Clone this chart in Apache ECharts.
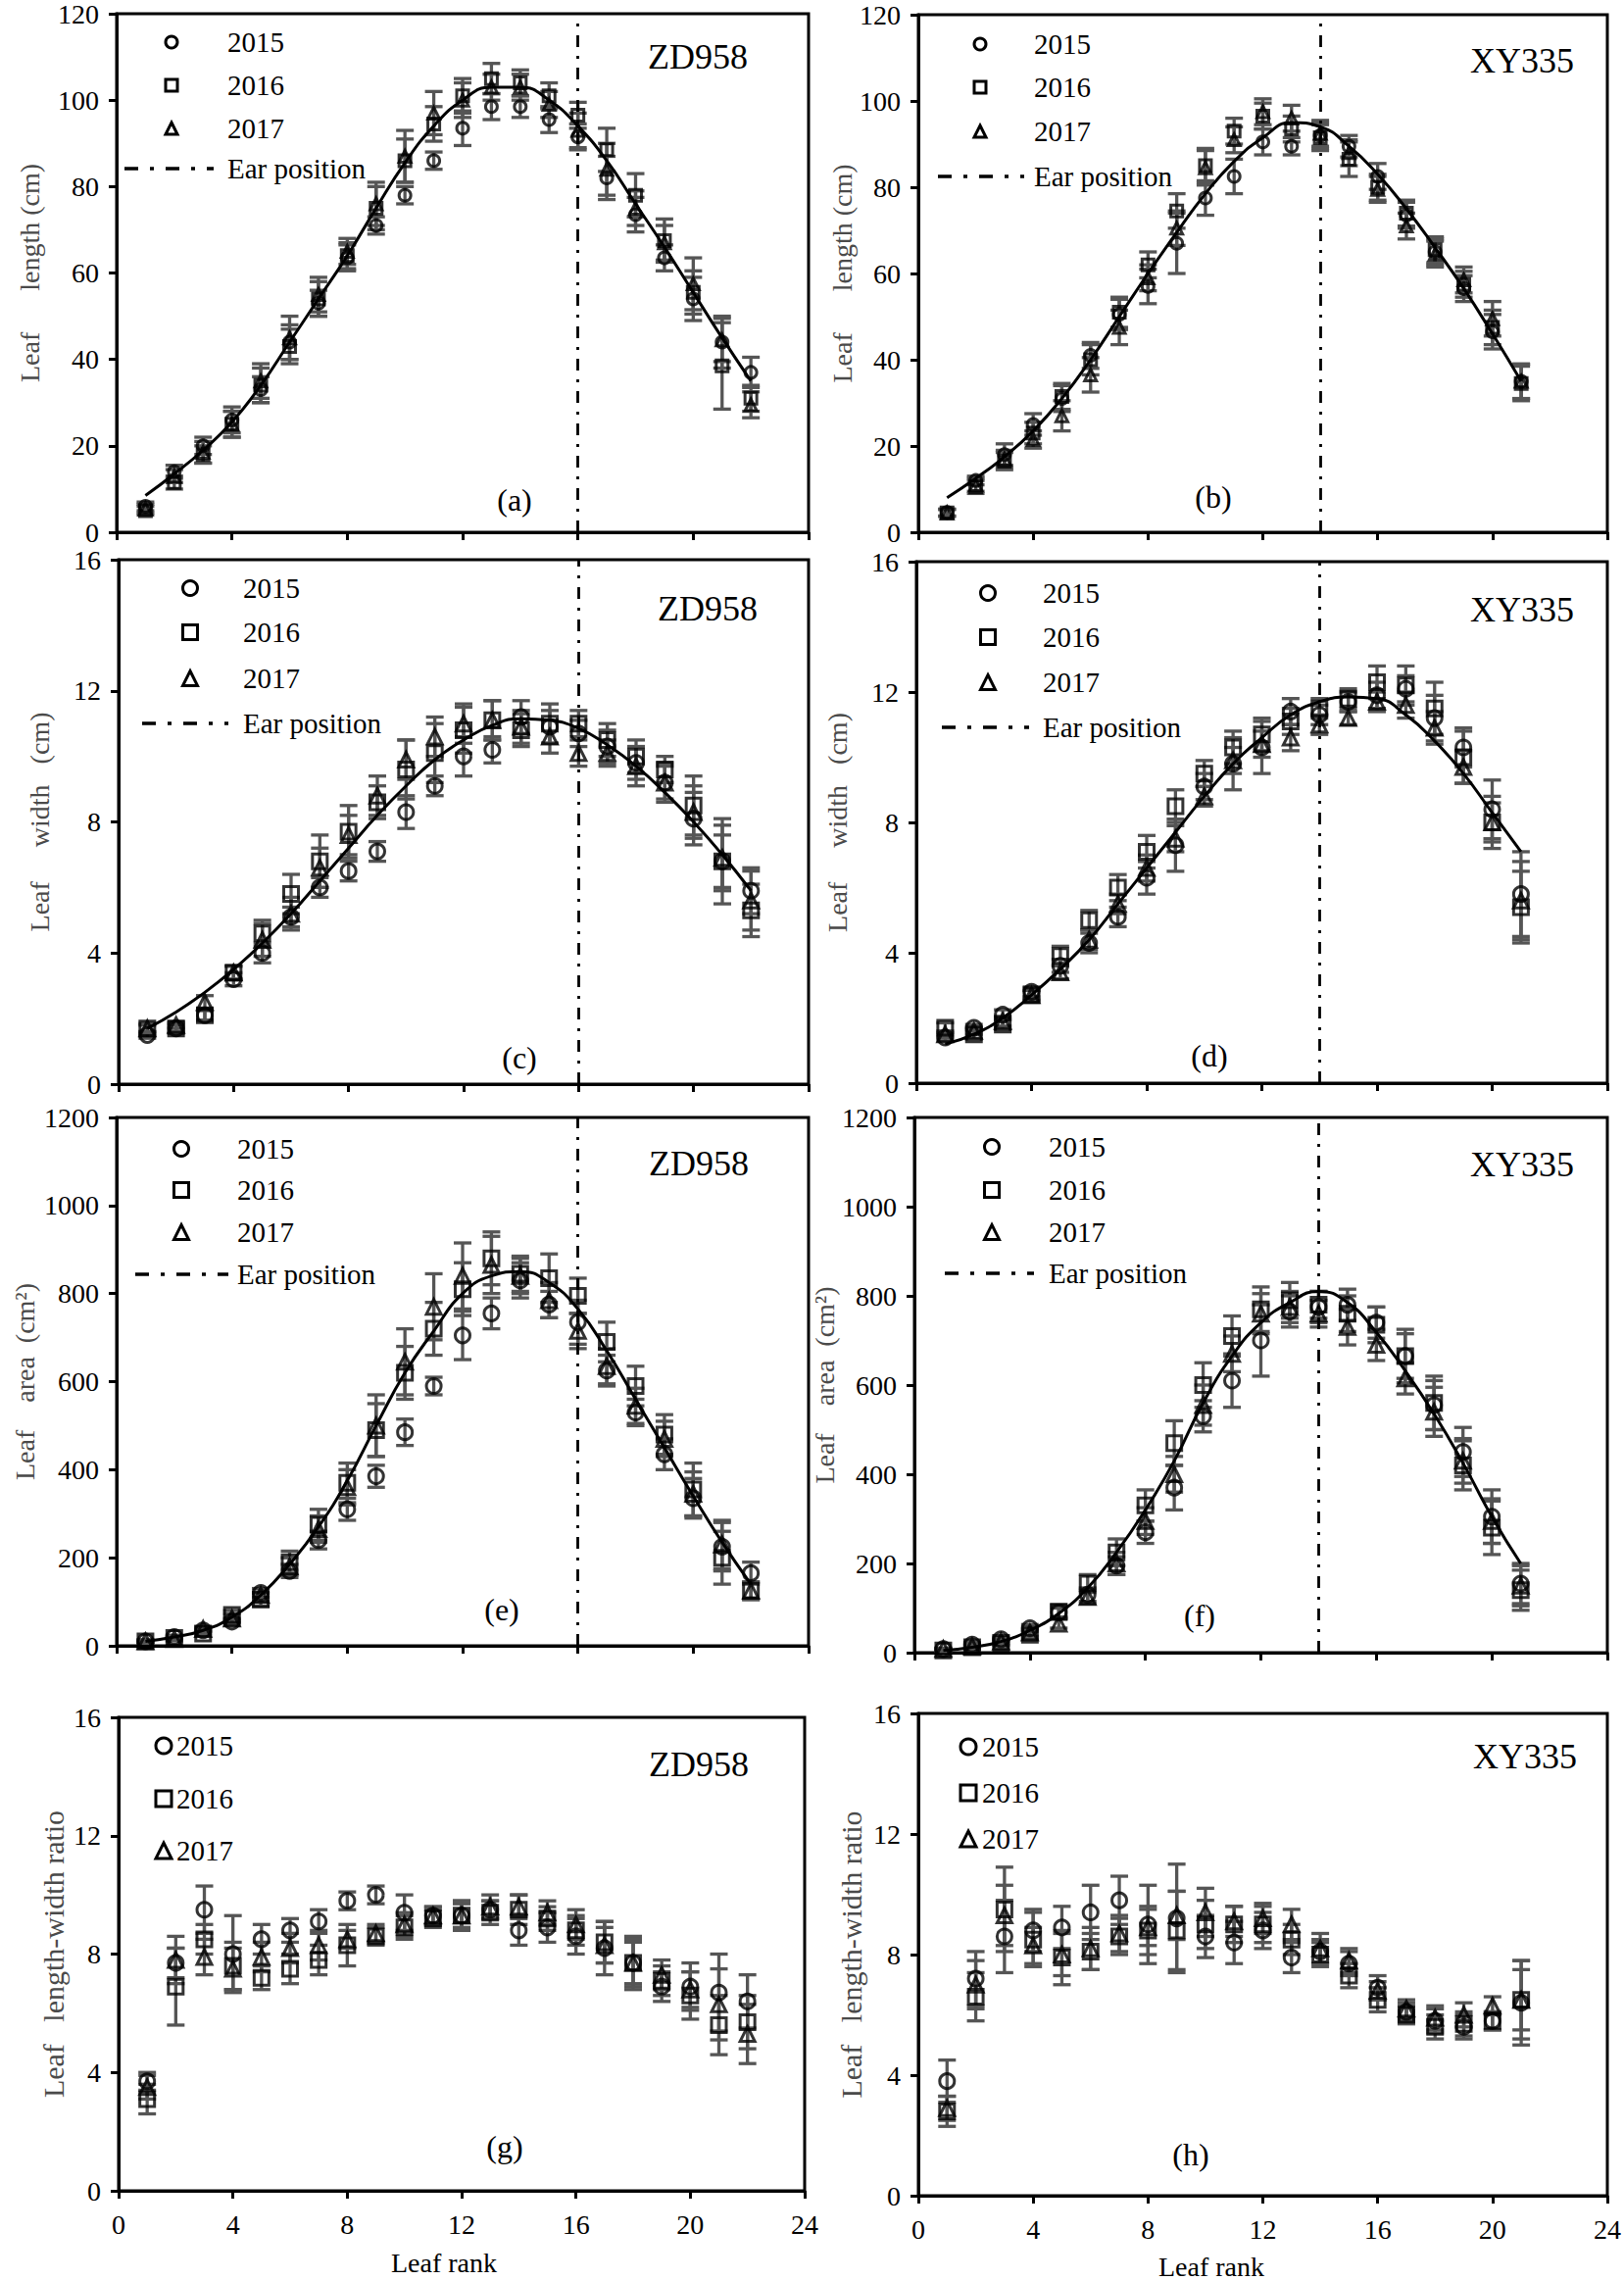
<!DOCTYPE html>
<html>
<head>
<meta charset="utf-8">
<title>Leaf length, width, area and length-width ratio by leaf rank</title>
<script src="https://cdn.jsdelivr.net/npm/echarts/dist/echarts.min.js"></script>
<style>
  html, body { margin: 0; padding: 0; background: #fff; }
  #chart { width: 1657px; height: 2326px; }
</style>
</head>
<body>
<div id="chart"></div>
<script>
// leaf ranks
const ranksZD = [1, 2, 3, 4, 5, 6, 7, 8, 9, 10, 11, 12, 13, 14, 15, 16, 17, 18, 19, 20, 21, 22]
const ranksXY = [1, 2, 3, 4, 5, 6, 7, 8, 9, 10, 11, 12, 13, 14, 15, 16, 17, 18, 19, 20, 21]
const years = ['2015', '2016', '2017']

// (a) leaf length, ZD958
const lengthZD2015 = [6, 14, 20, 26, 33, 44, 53, 63.5, 71, 78, 86, 93.5, 98.5, 98.5, 95.5, 91.5, 82, 73.5, 63.5, 54, 44, 37]
const lengthZD2016 = [5, 11.5, 18, 25, 34, 43, 54, 64, 75, 86, 94.5, 101, 105, 104, 101, 96.5, 88.5, 78, 67.5, 55.5, 38.5, 31]
const lengthZD2017 = [5.5, 13, 18.5, 25, 35, 45, 55, 65, 76, 87, 97, 100, 103, 103, 99, 93, 84, 75, 67, 57.5, 44.5, 29.5]
const lengthZD2015Err = [1, 1.5, 2, 3, 3, 4, 3, 3, 2, 2, 2, 4, 3, 2.5, 3, 3, 5, 4, 3, 5, 6, 3.5]
const lengthZD2016Err = [1, 1.5, 2, 3, 4, 4, 4, 3, 5, 5, 4, 4, 3.5, 3, 3, 3, 5, 5, 5, 5, 10, 3]
const lengthZD2017Err = [1, 1.5, 2.5, 3, 4, 5, 4, 3, 5, 6, 5, 4, 3, 3, 3, 4, 6, 4, 4, 6, 5, 3]
const lengthZDFit = [8.5, 13.5, 19, 25.5, 34, 44, 54, 64, 75, 85.5, 94, 100, 103, 103, 100, 94, 86, 76, 66, 55.5, 45, 35]

// (b) leaf length, XY335
const lengthXY2015 = [4.6, 12, 18, 25, 31, 41, 50.5, 57, 67, 77.5, 82.5, 90.5, 89.5, 92, 89.5, 82.5, 73.5, 65, 56.5, 46.5, 35]
const lengthXY2016 = [4.5, 10.5, 16.5, 23, 31.5, 40, 51, 62, 74.5, 85, 93, 96.5, 93.5, 91.5, 86.5, 80, 74, 65.5, 57.5, 47.5, 34.5]
const lengthXY2017 = [4.5, 11, 17, 21.5, 27, 36.5, 47.5, 59, 70.5, 84.5, 91, 97.5, 96, 92.5, 88, 79.5, 71, 64.5, 58.5, 49.5, 35]
const lengthXY2015Err = [0.8, 1, 2.5, 2.5, 3, 3, 3.5, 4, 7, 4, 4, 3, 2, 3, 2.5, 3, 3, 3, 3, 4, 4]
const lengthXY2016Err = [0.8, 1.5, 2, 2.5, 3, 3.5, 3.5, 3, 4, 4, 3, 3, 3, 3, 4, 3, 3, 3, 3, 4, 4]
const lengthXY2017Err = [0.8, 1.5, 2, 2, 3.5, 4, 4, 3, 4, 4, 3, 3, 3, 3, 3, 3, 3, 3, 3, 4, 4]
const lengthXYFit = [8, 12.5, 17.5, 23.5, 31, 40, 50, 60, 69.5, 78.5, 86, 91.5, 95, 94, 89.5, 83, 75, 66, 56.5, 46, 35]

// (c) leaf width, ZD958
const widthZD2015 = [1.5, 1.7, 2.1, 3.2, 4.0, 5.1, 6.0, 6.5, 7.1, 8.3, 9.1, 10.0, 10.2, 11.2, 10.9, 10.7, 10.3, 9.8, 9.2, 8.1, 6.8, 5.9]
const widthZD2016 = [1.7, 1.7, 2.1, 3.4, 4.6, 5.8, 6.8, 7.7, 8.6, 9.6, 10.1, 10.8, 11.1, 10.8, 11.0, 11.0, 10.5, 10.0, 9.6, 8.5, 6.8, 5.3]
const widthZD2017 = [1.7, 1.8, 2.5, 3.4, 4.4, 5.2, 6.6, 7.6, 8.8, 9.9, 10.6, 11.0, 11.1, 10.9, 10.6, 10.1, 10.1, 9.7, 9.2, 8.3, 6.9, 5.6]
const widthZD2015Err = [0.1, 0.1, 0.15, 0.2, 0.3, 0.3, 0.3, 0.3, 0.3, 0.5, 0.3, 0.6, 0.4, 0.5, 0.5, 0.4, 0.5, 0.5, 0.6, 0.8, 0.8, 0.7]
const widthZD2016Err = [0.15, 0.15, 0.15, 0.2, 0.4, 0.6, 0.8, 0.8, 0.5, 0.9, 0.9, 0.7, 0.6, 0.5, 0.6, 0.4, 0.5, 0.5, 0.4, 0.9, 1.3, 0.8]
const widthZD2017Err = [0.1, 0.1, 0.2, 0.2, 0.5, 0.5, 0.6, 0.6, 0.6, 0.6, 0.6, 0.6, 0.6, 0.5, 0.5, 0.4, 0.4, 0.6, 0.5, 0.8, 1.0, 0.9]
const widthZDFit = [1.7, 2.2, 2.8, 3.5, 4.3, 5.2, 6.2, 7.2, 8.2, 9.1, 9.9, 10.5, 10.95, 11.15, 11.1, 10.85, 10.35, 9.7, 8.9, 8.0, 7.0, 5.9]

// (d) leaf width, XY335
const widthXY2015 = [1.4, 1.7, 2.1, 2.8, 3.6, 4.3, 5.1, 6.3, 7.3, 9.1, 9.8, 10.3, 11.4, 11.3, 11.7, 11.9, 12.1, 11.2, 10.3, 8.4, 5.8]
const widthXY2016 = [1.7, 1.5, 1.8, 2.7, 3.9, 5.0, 6.0, 7.1, 8.5, 9.5, 10.3, 10.7, 11.1, 11.5, 11.8, 12.3, 12.2, 11.5, 10.0, 8.0, 5.4]
const widthXY2017 = [1.5, 1.6, 1.9, 2.7, 3.4, 4.4, 5.5, 6.6, 7.5, 8.8, 9.9, 10.4, 10.6, 11.0, 11.2, 11.7, 11.6, 10.9, 9.7, 8.0, 5.6]
const widthXY2015Err = [0.1, 0.1, 0.15, 0.15, 0.2, 0.3, 0.3, 0.5, 0.8, 0.4, 0.8, 0.8, 0.4, 0.3, 0.3, 0.4, 0.4, 0.7, 0.6, 0.9, 1.3]
const widthXY2016Err = [0.15, 0.15, 0.15, 0.15, 0.3, 0.3, 0.4, 0.5, 0.5, 0.4, 0.5, 0.5, 0.4, 0.3, 0.3, 0.5, 0.6, 0.8, 0.8, 0.8, 1.1]
const widthXY2017Err = [0.1, 0.1, 0.15, 0.15, 0.2, 0.3, 0.3, 0.4, 0.4, 0.3, 0.4, 0.4, 0.4, 0.3, 0.2, 0.3, 0.4, 0.5, 0.5, 0.6, 1.2]
const widthXYFit = [1.2, 1.5, 2.0, 2.7, 3.5, 4.4, 5.5, 6.6, 7.7, 8.8, 9.8, 10.6, 11.3, 11.7, 11.85, 11.8, 11.3, 10.5, 9.5, 8.3, 7.1]

// (e) leaf area, ZD958
const areaZD2015 = [10, 20, 35, 55, 120, 170, 240, 310, 385, 485, 590, 705, 755, 830, 775, 735, 625, 530, 435, 335, 225, 165]
const areaZD2016 = [10, 18, 28, 70, 105, 190, 275, 370, 490, 620, 720, 810, 880, 845, 835, 795, 690, 590, 480, 355, 200, 125]
const areaZD2017 = [10, 15, 38, 62, 115, 180, 265, 360, 500, 645, 770, 840, 865, 840, 785, 715, 635, 545, 470, 345, 230, 125]
const areaZD2015Err = [3, 4, 5, 8, 10, 15, 20, 25, 25, 30, 20, 55, 35, 40, 30, 50, 35, 30, 35, 45, 55, 25]
const areaZD2016Err = [3, 4, 5, 10, 15, 25, 35, 45, 60, 60, 60, 60, 60, 40, 55, 40, 45, 45, 45, 60, 60, 20]
const areaZD2017Err = [3, 4, 5, 10, 15, 20, 30, 40, 70, 75, 75, 75, 65, 40, 40, 40, 40, 40, 40, 50, 55, 20]
const areaZDFit = [10, 20, 35, 65, 115, 185, 270, 375, 500, 620, 715, 800, 840, 850, 825, 765, 670, 560, 450, 340, 235, 140]

// (f) leaf area, XY335
const areaXY2015 = [8, 18, 30, 55, 90, 130, 195, 270, 370, 530, 610, 700, 765, 775, 780, 740, 665, 555, 450, 305, 155]
const areaXY2016 = [5, 12, 22, 40, 92, 155, 225, 330, 470, 600, 710, 770, 790, 780, 760, 735, 665, 560, 420, 280, 140]
const areaXY2017 = [8, 14, 25, 45, 65, 125, 200, 295, 400, 555, 670, 760, 775, 760, 730, 690, 615, 540, 430, 295, 150]
const areaXY2015Err = [2, 4, 5, 8, 10, 15, 20, 25, 50, 35, 60, 80, 35, 35, 35, 35, 50, 55, 55, 60, 45]
const areaXY2016Err = [2, 4, 6, 10, 15, 20, 30, 35, 50, 50, 45, 50, 40, 30, 40, 40, 60, 60, 55, 60, 45]
const areaXY2017Err = [2, 4, 5, 8, 10, 15, 25, 30, 40, 45, 40, 45, 35, 30, 40, 35, 35, 55, 50, 50, 45]
const areaXYFit = [5, 12, 25, 50, 88, 145, 225, 320, 430, 560, 665, 740, 785, 810, 785, 718, 632, 535, 425, 305, 200]

// (g) leaf length-width ratio, ZD958
const ratioZD2015 = [3.7, 7.7, 9.5, 8.0, 8.5, 8.8, 9.1, 9.8, 10.0, 9.4, 9.3, 9.3, 9.5, 8.8, 8.9, 8.6, 8.2, 7.7, 6.9, 6.9, 6.7, 6.4]
const ratioZD2016 = [3.1, 6.9, 8.5, 7.6, 7.2, 7.5, 7.8, 8.3, 8.6, 8.9, 9.2, 9.3, 9.4, 9.5, 9.2, 8.8, 8.4, 7.7, 7.1, 6.6, 5.6, 5.7]
const ratioZD2017 = [3.5, 7.8, 7.9, 7.5, 7.9, 8.2, 8.3, 8.5, 8.7, 9.0, 9.3, 9.3, 9.6, 9.6, 9.4, 9.0, 8.3, 7.7, 7.3, 6.8, 6.3, 5.3]
const ratioZD2015Err = [0.3, 0.5, 0.8, 1.3, 0.5, 0.4, 0.4, 0.3, 0.3, 0.6, 0.3, 0.5, 0.3, 0.5, 0.5, 0.6, 0.9, 0.9, 0.5, 0.8, 1.3, 0.9]
const ratioZD2016Err = [0.5, 1.3, 0.5, 0.8, 0.4, 0.5, 0.5, 0.7, 0.3, 0.4, 0.3, 0.5, 0.4, 0.5, 0.4, 0.5, 0.7, 0.8, 0.5, 0.8, 1.0, 0.9]
const ratioZD2017Err = [0.4, 0.8, 0.6, 0.7, 0.5, 0.5, 0.5, 0.3, 0.3, 0.4, 0.3, 0.4, 0.4, 0.4, 0.4, 0.5, 0.6, 0.7, 0.5, 0.6, 1.2, 1.0]

// (h) leaf length-width ratio, XY335
const ratioXY2015 = [3.8, 7.2, 8.6, 8.8, 8.9, 9.4, 9.8, 9.0, 9.2, 8.6, 8.4, 8.8, 7.9, 8.1, 7.7, 6.9, 6.1, 5.8, 5.6, 5.8, 6.4]
const ratioXY2016 = [2.8, 6.6, 9.5, 8.5, 7.9, 8.1, 8.6, 8.8, 8.8, 9.0, 9.0, 9.0, 8.5, 8.0, 7.3, 6.5, 6.0, 5.6, 5.7, 5.8, 6.5]
const ratioXY2017 = [2.9, 7.0, 9.3, 8.3, 8.0, 8.2, 8.7, 8.9, 9.3, 9.4, 9.1, 9.2, 9.0, 8.2, 7.8, 6.8, 6.2, 5.9, 6.0, 6.3, 6.5]
const ratioXY2015Err = [0.7, 0.9, 1.2, 0.7, 0.7, 0.9, 0.8, 1.3, 1.8, 0.7, 0.7, 0.6, 0.5, 0.4, 0.4, 0.4, 0.3, 0.4, 0.4, 0.3, 1.4]
const ratioXY2016Err = [0.5, 0.8, 1.4, 0.9, 0.9, 0.6, 0.6, 0.8, 1.3, 0.8, 0.6, 0.6, 0.5, 0.4, 0.4, 0.4, 0.3, 0.4, 0.4, 0.3, 1.3]
const ratioXY2017Err = [0.4, 0.8, 1.0, 0.6, 0.7, 0.7, 0.6, 0.6, 0.8, 0.8, 0.5, 0.5, 0.5, 0.5, 0.4, 0.3, 0.3, 0.4, 0.4, 0.3, 1.0]

// ear position (leaf rank)
const earZD = 16
const earXY = 14

const FONT = '"Liberation Serif", "Times New Roman", serif'
const INK = '#000'
const BAR = '#555'
const NAME_INK = '#4a4a4a'
const SYMBOLS = ['circle', 'rect', 'triangle']
const SP = '\u00a0'

const panels = [
  {
    grid: { left: 119, top: 14, width: 706, height: 529 }, yMax: 120, yStep: 20,
    yName: 'Leaf' + SP.repeat(6) + 'length (cm)', nameGap: 75, nameSize: 28,
    ranks: ranksZD, fit: lengthZDFit, ear: earZD, size: 12,
    years: [[lengthZD2015, lengthZD2015Err], [lengthZD2016, lengthZD2016Err], [lengthZD2017, lengthZD2017Err]],
    cultivar: ['ZD958', 712, 58], tag: ['(a)', 525, 510],
    legend: { sx: 175, tx: 232, rows: [43, 87, 131], ear: [127, 218, 172], size: 12 }
  },
  {
    grid: { left: 937, top: 15, width: 703, height: 528 }, yMax: 120, yStep: 20,
    yName: 'Leaf' + SP.repeat(6) + 'length (cm)', nameGap: 63, nameSize: 28,
    ranks: ranksXY, fit: lengthXYFit, ear: earXY, size: 12,
    years: [[lengthXY2015, lengthXY2015Err], [lengthXY2016, lengthXY2016Err], [lengthXY2017, lengthXY2017Err]],
    cultivar: ['XY335', 1553, 62], tag: ['(b)', 1238, 507],
    legend: { sx: 1000, tx: 1055, rows: [45, 89, 134], ear: [957, 1045, 180], size: 12 }
  },
  {
    grid: { left: 121, top: 571, width: 704, height: 535 }, yMax: 16, yStep: 4,
    yName: 'Leaf' + SP.repeat(5) + 'width' + SP.repeat(3) + '(cm)', nameGap: 67, nameSize: 28,
    ranks: ranksZD, fit: widthZDFit, ear: earZD, size: 15,
    years: [[widthZD2015, widthZD2015Err], [widthZD2016, widthZD2016Err], [widthZD2017, widthZD2017Err]],
    cultivar: ['ZD958', 722, 621], tag: ['(c)', 530, 1079],
    legend: { sx: 194, tx: 248, rows: [600, 645, 692], ear: [145, 233, 738], size: 15 }
  },
  {
    grid: { left: 935, top: 573, width: 705, height: 532 }, yMax: 16, yStep: 4,
    yName: 'Leaf' + SP.repeat(5) + 'width' + SP.repeat(3) + '(cm)', nameGap: 67, nameSize: 28,
    ranks: ranksXY, fit: widthXYFit, ear: earXY, size: 15,
    years: [[widthXY2015, widthXY2015Err], [widthXY2016, widthXY2016Err], [widthXY2017, widthXY2017Err]],
    cultivar: ['XY335', 1553, 622], tag: ['(d)', 1234, 1077],
    legend: { sx: 1008, tx: 1064, rows: [605, 650, 696], ear: [961, 1050, 742], size: 15 }
  },
  {
    grid: { left: 119, top: 1140, width: 706, height: 539 }, yMax: 1200, yStep: 200,
    yName: 'Leaf' + SP.repeat(4) + 'area' + SP.repeat(2) + '(cm²)', nameGap: 80, nameSize: 28,
    ranks: ranksZD, fit: areaZDFit, ear: earZD, size: 15,
    years: [[areaZD2015, areaZD2015Err], [areaZD2016, areaZD2016Err], [areaZD2017, areaZD2017Err]],
    cultivar: ['ZD958', 713, 1187], tag: ['(e)', 512, 1642],
    legend: { sx: 185, tx: 242, rows: [1172, 1214, 1257], ear: [138, 233, 1300], size: 15 }
  },
  {
    grid: { left: 933, top: 1140, width: 707, height: 546 }, yMax: 1200, yStep: 200,
    yName: 'Leaf' + SP.repeat(4) + 'area' + SP.repeat(2) + '(cm²)', nameGap: 70, nameSize: 28,
    ranks: ranksXY, fit: areaXYFit, ear: earXY, size: 15,
    years: [[areaXY2015, areaXY2015Err], [areaXY2016, areaXY2016Err], [areaXY2017, areaXY2017Err]],
    cultivar: ['XY335', 1553, 1188], tag: ['(f)', 1224, 1648],
    legend: { sx: 1012, tx: 1070, rows: [1170, 1214, 1257], ear: [964, 1055, 1299], size: 15 }
  },
  {
    grid: { left: 121, top: 1752, width: 700, height: 483 }, yMax: 16, yStep: 4,
    yName: 'Leaf' + SP.repeat(3) + 'length-width ratio', nameGap: 52, nameSize: 30,
    ranks: ranksZD, fit: null, ear: null, size: 15, xLabels: true,
    years: [[ratioZD2015, ratioZD2015Err], [ratioZD2016, ratioZD2016Err], [ratioZD2017, ratioZD2017Err]],
    cultivar: ['ZD958', 713, 1800], tag: ['(g)', 515, 2190], rankTitle: [453, 2308],
    legend: { sx: 167, tx: 180, rows: [1781, 1835, 1888], ear: null, size: 16 }
  },
  {
    grid: { left: 937, top: 1748, width: 703, height: 492 }, yMax: 16, yStep: 4,
    yName: 'Leaf' + SP.repeat(3) + 'length-width ratio', nameGap: 54, nameSize: 30,
    ranks: ranksXY, fit: null, ear: null, size: 15, xLabels: true,
    years: [[ratioXY2015, ratioXY2015Err], [ratioXY2016, ratioXY2016Err], [ratioXY2017, ratioXY2017Err]],
    cultivar: ['XY335', 1556, 1792], tag: ['(h)', 1215, 2198], rankTitle: [1236, 2312],
    legend: { sx: 988, tx: 1002, rows: [1782, 1829, 1876], ear: null, size: 16 }
  }
]

function errorBar(params, api) {
  const x = api.value(0)
  const y = api.value(1)
  const e = api.value(2)
  const hi = api.coord([x, y + e])
  const lo = api.coord([x, y - e])
  const cap = 9
  const seg = (x1, y1, x2, y2) => ({
    type: 'line',
    shape: { x1, y1, x2, y2 },
    style: { stroke: BAR, lineWidth: 3.3 }
  })
  return {
    type: 'group',
    children: [
      seg(hi[0], hi[1], lo[0], lo[1]),
      seg(hi[0] - cap, hi[1], hi[0] + cap, hi[1]),
      seg(lo[0] - cap, lo[1], lo[0] + cap, lo[1])
    ]
  }
}

function text(str, x, y, size, align, color) {
  return {
    type: 'text', x, y, silent: true,
    style: {
      text: str, font: size + 'px ' + FONT, fill: color || INK,
      align: align || 'center', verticalAlign: 'middle',
      textAlign: align || 'center', textVerticalAlign: 'middle'
    }
  }
}

function legendMark(kind, cx, cy, s) {
  const style = { fill: '#fff', stroke: INK, lineWidth: 3 }
  if (kind === 'circle') return { type: 'circle', shape: { cx, cy, r: s / 2 }, style, silent: true }
  if (kind === 'rect') return { type: 'rect', shape: { x: cx - s / 2, y: cy - s / 2, width: s, height: s }, style, silent: true }
  return {
    type: 'polygon', silent: true, style,
    shape: { points: [[cx, cy - s / 2], [cx + s / 2, cy + s / 2], [cx - s / 2, cy + s / 2]] }
  }
}

const grid = []
const xAxis = []
const yAxis = []
const series = []
const elements = []

panels.forEach((p, gi) => {
  grid.push(Object.assign({ show: true, borderColor: INK, borderWidth: 3, outerBoundsMode: 'none' }, p.grid))

  const axisLine = { show: true, onZero: false, lineStyle: { color: INK, width: 3 } }
  const tickStyle = { color: INK, width: 3 }
  const labelStyle = { fontFamily: FONT, fontSize: 28, color: INK, formatter: v => String(v) }
  // outer axis: line, labels, outward ticks
  xAxis.push({
    gridIndex: gi, type: 'value', min: 0, max: 24, interval: 4,
    axisLine, axisTick: { show: true, length: 8, lineStyle: tickStyle },
    axisLabel: Object.assign({ show: !!p.xLabels, margin: 20 }, labelStyle),
    splitLine: { show: false }
  })
  // inner twin: inward ticks so the marks cross the axis
  xAxis.push({
    gridIndex: gi, type: 'value', min: 0, max: 24, interval: 4,
    axisLine: { show: false }, axisTick: { show: true, inside: true, length: 8, lineStyle: tickStyle },
    axisLabel: { show: false }, splitLine: { show: false }
  })
  yAxis.push({
    gridIndex: gi, type: 'value', min: 0, max: p.yMax, interval: p.yStep,
    name: p.yName, nameLocation: 'middle', nameRotate: 90, nameGap: p.nameGap,
    nameTextStyle: { fontFamily: FONT, fontSize: p.nameSize, color: NAME_INK },
    axisLine, axisTick: { show: true, length: 8, lineStyle: tickStyle },
    axisLabel: Object.assign({ margin: 18 }, labelStyle),
    splitLine: { show: false }
  })
  yAxis.push({
    gridIndex: gi, type: 'value', min: 0, max: p.yMax, interval: p.yStep,
    axisLine: { show: false }, axisTick: { show: true, inside: true, length: 8, lineStyle: tickStyle },
    axisLabel: { show: false }, splitLine: { show: false }
  })

  const ax = { xAxisIndex: 2 * gi, yAxisIndex: 2 * gi }

  p.years.forEach(([vals, errs], k) => {
    series.push(Object.assign({
      type: 'custom', name: years[k] + ' SD', silent: true, z: 2,
      renderItem: errorBar, encode: { x: 0, y: 1 },
      data: p.ranks.map((r, i) => [r, vals[i], errs[i]])
    }, ax))
  })
  p.years.forEach(([vals], k) => {
    series.push(Object.assign({
      type: 'scatter', name: years[k], silent: true, z: 3,
      symbol: SYMBOLS[k], symbolSize: p.size,
      itemStyle: { color: 'transparent', borderColor: INK, borderWidth: 3 },
      data: p.ranks.map((r, i) => [r, vals[i]])
    }, ax))
  })
  if (p.fit) {
    series.push(Object.assign({
      type: 'line', name: 'fit', silent: true, z: 4, smooth: true, showSymbol: false, symbol: 'none',
      lineStyle: { color: INK, width: 3 },
      data: p.ranks.map((r, i) => [r, p.fit[i]]),
      markLine: {
        silent: true, symbol: ['none', 'none'], label: { show: false },
        lineStyle: { color: INK, width: 2.8, type: [12, 9, 3, 9] },
        data: [{ xAxis: p.ear }]
      }
    }, ax))
  }

  // annotations
  elements.push(text(p.cultivar[0], p.cultivar[1], p.cultivar[2], 36))
  elements.push(text(p.tag[0], p.tag[1], p.tag[2], 32))
  if (p.rankTitle) elements.push(text('Leaf rank', p.rankTitle[0], p.rankTitle[1], 28))

  // legend
  const L = p.legend
  years.forEach((yr, k) => {
    elements.push(legendMark(SYMBOLS[k], L.sx, L.rows[k], L.size))
    elements.push(text(yr, L.tx, L.rows[k], 29, 'left'))
  })
  if (L.ear) {
    elements.push({
      type: 'line', silent: true,
      shape: { x1: L.ear[0], y1: L.ear[2], x2: L.ear[1], y2: L.ear[2] },
      style: { stroke: INK, lineWidth: 3.5, lineDash: [14, 12, 4, 12] }
    })
    elements.push(text('Ear position', L.tx, L.ear[2], 29, 'left'))
  }
})

const chart = echarts.init(document.getElementById('chart'), null, { renderer: 'svg' })
chart.setOption({
  animation: false,
  backgroundColor: '#fff',
  grid, xAxis, yAxis, series,
  graphic: { elements }
})
</script>
</body>
</html>
